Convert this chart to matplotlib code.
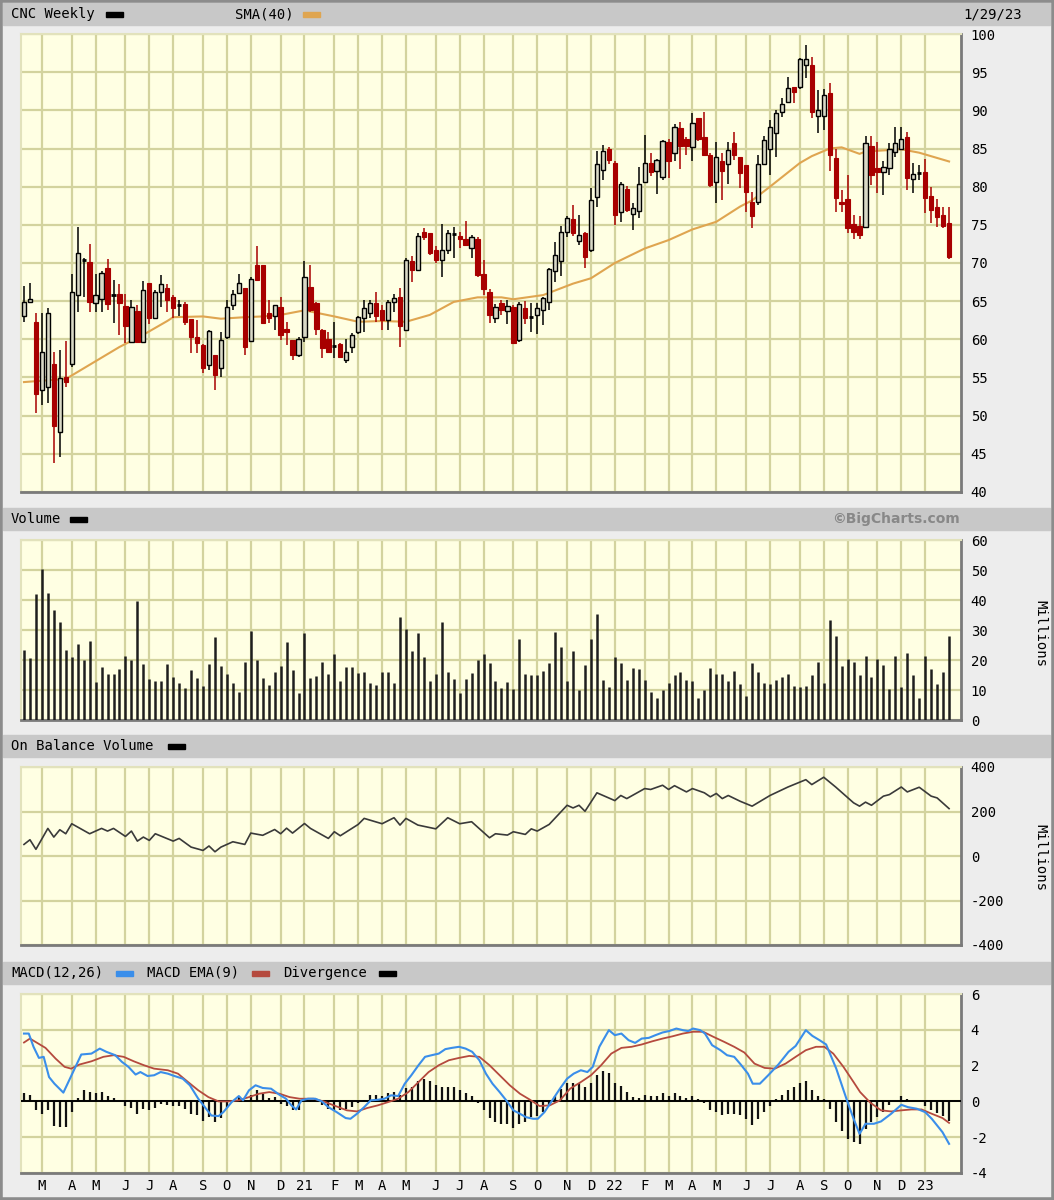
import matplotlib
matplotlib.use("Agg")
import matplotlib.pyplot as plt
from matplotlib.patches import Rectangle
import numpy as np
import pandas as pd

plt.rcParams["axes.unicode_minus"] = False

W, H = 1054, 1200
MONO = "DejaVu Sans Mono"

# ---------------- data ----------------
first_week = "2020-02-09"
n_weeks = 156

opens = [63.0, 64.85, 62.3, 53.4, 53.8, 56.8, 47.8, 55.1, 56.8, 65.8,
         70.5, 70.1, 64.7, 65.25, 69.3, 65.95, 65.9, 64.4, 59.7, 63.75,
         59.7, 67.4, 62.75, 66.2, 66.7, 65.5, 64.55, 64.6, 62.6, 60.35,
         59.25, 56.6, 57.95, 56.2, 60.3, 64.5, 66.1, 66.7, 59.8, 69.7,
         69.7, 63.4, 63.0, 64.2, 61.3, 59.9, 57.95, 60.35, 66.9, 64.7,
         61.2, 60.1, 59.3, 59.4, 57.3, 59.0, 60.9, 62.75, 63.5, 64.8,
         63.8, 62.5, 64.9, 65.5, 61.2, 70.2, 69.1, 74.0, 73.9, 71.7,
         70.4, 71.7, 73.85, 73.5, 73.2, 71.9, 73.2, 68.55, 66.2, 62.75,
         64.8, 63.75, 64.3, 59.9, 64.1, 63.05, 63.2, 63.9, 64.9, 68.9,
         70.2, 74.1, 75.7, 72.9, 73.9, 71.7, 78.7, 82.2, 84.9, 83.1,
         76.7, 79.65, 76.4, 76.85, 80.65, 83.1, 82.1, 81.3, 85.9, 84.45,
         87.65, 86.2, 85.2, 88.95, 86.5, 84.15, 80.65, 83.3, 83.0, 85.7,
         83.9, 82.8, 78.0, 78.0, 83.0, 85.0, 87.0, 89.8, 91.1, 93.0,
         93.0, 95.9, 95.9, 89.3, 89.3, 92.3, 83.7, 78.0, 78.35, 75.1,
         74.85, 74.7, 85.3, 82.4, 81.95, 82.5, 84.6, 85.0, 86.55, 80.95,
         81.95, 81.95, 78.8, 77.4, 76.3, 75.3]
highs = [67.0, 67.4, 63.4, 63.4, 64.1, 58.4, 58.6, 59.8, 68.6, 74.75,
         70.6, 72.5, 68.6, 69.0, 70.5, 67.8, 67.2, 66.0, 65.2, 64.5,
         67.7, 67.4, 66.5, 68.4, 67.2, 65.8, 65.2, 64.9, 62.6, 62.5,
         59.4, 61.2, 57.95, 60.9, 65.2, 66.5, 68.6, 66.7, 68.2, 72.2,
         69.7, 65.2, 64.5, 65.6, 62.3, 59.9, 60.3, 70.2, 69.7, 64.9,
         61.4, 61.0, 62.3, 59.5, 60.1, 60.8, 63.0, 65.1, 65.2, 66.2,
         64.5, 65.2, 66.0, 66.7, 70.6, 70.9, 73.9, 74.55, 73.9, 72.2,
         75.1, 74.3, 74.7, 74.1, 75.5, 73.7, 73.45, 70.4, 66.6, 64.6,
         65.2, 65.2, 64.5, 64.9, 65.0, 64.7, 64.7, 65.6, 69.4, 72.8,
         74.85, 76.1, 77.6, 76.3, 74.1, 79.8, 84.7, 85.5, 85.2, 83.3,
         80.65, 80.1, 77.8, 82.6, 86.8, 84.45, 83.6, 86.1, 86.2, 88.2,
         88.5, 86.55, 89.7, 88.95, 89.8, 84.4, 85.9, 84.4, 85.9, 87.2,
         83.9, 82.8, 79.3, 84.15, 86.6, 88.7, 90.0, 91.6, 94.4, 93.1,
         96.8, 98.6, 97.0, 92.6, 92.75, 93.55, 85.0, 79.6, 81.5, 76.3,
         76.1, 86.6, 86.6, 85.9, 83.3, 85.7, 87.8, 87.8, 87.1, 83.05,
         82.8, 83.6, 80.0, 78.35, 77.4, 77.4]
lows = [62.3, 64.7, 50.3, 51.4, 51.6, 43.75, 44.6, 53.8, 56.4, 63.6,
        65.6, 63.6, 63.6, 63.6, 63.8, 62.2, 60.6, 59.5, 59.5, 59.5,
        59.5, 62.0, 62.6, 64.3, 63.6, 62.75, 63.05, 61.9, 58.2, 58.2,
        55.55, 56.0, 53.4, 55.0, 60.1, 63.8, 66.0, 57.95, 59.7, 67.8,
        62.0, 62.1, 61.2, 59.9, 59.3, 57.3, 57.7, 59.7, 63.6, 60.6,
        57.5, 58.2, 57.5, 57.7, 56.9, 58.2, 60.7, 61.0, 62.8, 62.3,
        61.2, 61.2, 63.6, 59.0, 61.1, 67.5, 69.1, 73.0, 71.0, 70.0,
        68.2, 71.2, 70.6, 71.9, 72.35, 70.6, 68.2, 65.8, 62.1, 62.1,
        63.2, 62.0, 59.5, 59.7, 62.0, 61.0, 60.7, 61.9, 63.8, 67.55,
        68.3, 73.4, 73.5, 72.35, 69.3, 71.5, 77.4, 80.9, 83.0, 75.0,
        75.4, 76.7, 74.3, 75.85, 80.5, 81.4, 79.1, 80.9, 81.2, 83.3,
        82.3, 84.15, 83.4, 86.0, 84.15, 79.9, 77.8, 78.3, 80.35, 83.5,
        79.8, 76.7, 74.55, 77.6, 82.8, 81.5, 83.9, 89.1, 90.9, 91.0,
        92.8, 94.2, 88.95, 87.0, 87.4, 82.0, 76.7, 76.7, 73.9, 73.1,
        73.2, 74.55, 80.2, 79.2, 78.9, 81.5, 83.9, 84.8, 79.6, 79.2,
        80.9, 76.5, 75.3, 74.75, 74.55, 70.5]
closes = [64.9, 65.3, 52.8, 58.4, 63.4, 48.6, 54.9, 54.45, 66.25, 71.3,
          70.4, 64.9, 65.8, 68.65, 64.6, 65.85, 64.8, 61.7, 64.2, 59.7,
          66.5, 62.75, 66.2, 67.3, 65.2, 64.1, 64.45, 62.3, 60.3, 59.5,
          56.2, 61.1, 55.3, 59.9, 64.2, 65.9, 67.4, 58.95, 67.9, 67.8,
          62.1, 62.75, 64.5, 60.6, 61.0, 57.95, 60.1, 68.2, 63.8, 61.4,
          58.8, 58.4, 59.1, 57.7, 58.4, 60.6, 62.9, 64.15, 64.8, 63.05,
          62.5, 64.9, 65.4, 61.7, 70.4, 69.1, 73.5, 73.45, 71.3, 70.4,
          71.7, 73.9, 73.75, 73.2, 72.35, 73.45, 68.4, 66.55, 63.2, 64.2,
          63.9, 64.4, 59.5, 64.6, 62.75, 62.95, 64.1, 65.4, 69.2, 71.0,
          74.1, 75.85, 73.9, 73.7, 70.8, 78.3, 83.0, 84.7, 83.5, 76.3,
          80.4, 76.9, 77.2, 80.4, 83.1, 81.95, 83.5, 86.0, 83.3, 87.8,
          85.3, 85.3, 88.3, 86.3, 84.15, 80.2, 83.9, 82.1, 84.8, 84.15,
          81.75, 79.3, 76.1, 83.0, 86.1, 87.85, 89.6, 90.8, 92.9, 92.4,
          96.7, 96.7, 89.8, 90.0, 92.0, 84.15, 78.5, 77.7, 74.55, 74.0,
          73.7, 85.7, 81.5, 81.95, 82.6, 85.0, 85.7, 86.3, 81.1, 81.65,
          81.8, 78.5, 76.9, 76.0, 74.85, 70.75]

# weekly volume, millions
volume = [23.3, 20.6, 41.9, 50.2, 42.4, 36.7, 32.8, 23.3, 21.1, 25.3,
          20.0, 26.3, 12.8, 17.6, 15.2, 15.2, 17.0, 21.4, 20.0, 39.7,
          18.6, 13.7, 13.1, 13.1, 18.6, 14.2, 12.2, 10.8, 16.7, 14.1,
          11.3, 18.6, 27.8, 18.1, 15.2, 12.2, 9.2, 19.4, 29.8, 20.0,
          14.1, 11.7, 16.1, 18.1, 25.9, 16.7, 8.9, 28.9, 14.1, 14.7,
          19.4, 15.2, 22.0, 13.1, 17.6, 17.6, 15.6, 16.1, 12.2, 11.7,
          16.1, 16.1, 12.2, 34.2, 30.2, 23.0, 28.9, 20.9, 13.1, 15.2,
          32.6, 16.1, 13.7, 8.9, 13.7, 15.6, 20.0, 21.9, 18.9, 13.1,
          10.8, 12.6, 10.2, 26.9, 15.2, 15.0, 15.0, 16.5, 19.0, 29.5,
          24.5, 13.0, 23.0, 10.0, 18.5, 27.0, 35.5, 13.5, 11.0, 21.0,
          19.0, 13.5, 17.5, 17.0, 13.5, 9.5, 7.5, 10.0, 12.5, 15.0,
          16.0, 13.5, 13.0, 7.5, 10.0, 17.5, 15.5, 15.5, 13.0, 16.5,
          12.0, 8.0, 19.0, 16.0, 12.5, 12.0, 13.5, 14.5, 15.5, 11.5,
          11.0, 11.5, 15.0, 19.5, 12.5, 33.5, 28.0, 18.0, 20.5, 19.5,
          15.0, 21.5, 14.5, 20.5, 18.5, 10.5, 21.5, 11.0, 22.5, 15.0,
          7.5, 21.5, 17.0, 12.0, 16.0, 28.0]

sma_weeks = [0, 5, 7, 10, 16, 20, 24, 25, 30, 33, 37, 40, 43, 47, 52, 56, 60,
             64, 68, 72, 76, 80, 82, 87, 92, 95, 99, 104, 108, 112, 116, 120,
             122, 125, 130, 132, 135, 137, 140, 141, 145, 147, 150, 155]
sma_vals = [54.4, 54.7, 54.8, 56.2, 59.0, 60.6, 62.4, 62.9, 63.0, 62.7, 62.9,
            63.0, 63.2, 63.8, 63.0, 62.3, 62.4, 62.3, 63.2, 64.9, 65.5, 65.5,
            65.25, 65.8, 67.3, 68.0, 70.0, 71.9, 73.0, 74.4, 75.4, 77.4, 78.2,
            80.0, 83.1, 84.0, 85.0, 85.15, 84.3, 84.6, 84.8, 84.9, 84.45, 83.3]

obv_weeks = [0, 1, 2, 4, 5, 6, 7, 8, 11, 13, 14, 15, 17, 18, 19, 20, 21, 22,
             25, 26, 28, 30, 31, 32, 33, 35, 37, 38, 40, 42, 43, 44, 45, 47,
             48, 51, 52, 53, 56, 57, 60, 62, 63, 64, 66, 69, 71, 73, 75, 78,
             79, 81, 82, 84, 85, 86, 88, 91, 92, 93, 94, 96, 99, 100, 101,
             104, 105, 107, 108, 109, 111, 112, 114, 115, 116, 117, 118, 120,
             122, 125, 128, 131, 132, 134, 136, 139, 140, 141, 142, 144, 145,
             147, 148, 150, 152, 153, 155]
obv_vals = [52, 73, 30, 124, 85, 118, 100, 145, 100, 124, 112, 124, 88, 112,
            67, 85, 70, 100, 67, 79, 40, 25, 45, 19, 40, 64, 52, 103, 93, 119,
            100, 125, 103, 146, 124, 79, 109, 91, 142, 169, 145, 172, 139,
            169, 139, 122, 172, 145, 154, 82, 100, 94, 109, 97, 122, 112, 142,
            228, 216, 228, 201, 284, 249, 272, 258, 303, 299, 318, 299, 316,
            288, 303, 284, 266, 281, 258, 272, 246, 224, 272, 310, 343, 321,
            354, 310, 239, 224, 242, 228, 269, 276, 310, 288, 309, 269, 261,
            213]

macd_weeks = [0, 0.8, 1.6, 2.5, 3.3, 4.2, 5.1, 6.6, 8.5, 9.6, 11.3, 12.7,
              13.8, 15.3, 16.4, 17.5, 18.7, 19.5, 20.7, 21.8, 22.9, 24.1,
              25.2, 26.6, 27.8, 29.2, 30.3, 31.4, 32.6, 33.4, 34.8, 36.0,
              36.7, 37.7, 38.8, 40.0, 41.4, 42.8, 43.9, 44.8, 45.6, 46.5,
              47.6, 48.8, 49.9, 51.0, 52.4, 53.9, 54.7, 55.8, 57.0, 58.1,
              59.3, 60.4, 61.5, 62.7, 63.8, 64.9, 66.1, 67.2, 68.3, 69.5,
              70.6, 71.7, 72.9, 74.0, 75.1, 76.3, 77.4, 78.5, 79.7, 80.8,
              82.0, 83.1, 84.1, 85.3, 86.1, 87.2, 88.7, 89.8, 91.0, 92.1,
              93.3, 94.4, 95.3, 96.4, 98.0, 99.0, 100.1, 101.3, 102.4, 103.5,
              104.7, 105.8, 107.0, 108.1, 109.3, 110.4, 111.3, 112.1, 113.3,
              114.1, 115.3, 116.7, 117.8, 119.0, 120.1, 121.3, 122.1, 123.3,
              124.7, 126.4, 128.1, 129.3, 131.0, 132.1, 133.3, 134.4, 136.1,
              137.8, 139.0, 140.0, 141.0, 142.4, 143.6, 145.3, 147.0, 148.1,
              149.6, 151.0, 152.1, 153.9, 155.0]
macd_vals = [3.79, 3.79, 3.05, 2.43, 2.49, 1.36, 0.99, 0.49, 1.83, 2.62, 2.67,
             2.95, 2.77, 2.58, 2.21, 1.93, 1.50, 1.64, 1.42, 1.46, 1.64, 1.55,
             1.42, 1.27, 0.90, 0.15, -0.32, -0.79, -0.82, -0.60, -0.04, 0.30,
             0.06, 0.62, 0.90, 0.75, 0.71, 0.37, 0.15, -0.22, -0.45, 0.06,
             0.15, 0.15, 0.00, -0.32, -0.60, -0.93, -0.97, -0.69, -0.32, 0.06,
             0.09, 0.15, 0.34, 0.30, 0.99, 1.46, 2.02, 2.49, 2.58, 2.67, 2.92,
             2.99, 3.05, 2.95, 2.77, 2.30, 1.55, 0.99, 0.52, 0.06, -0.50,
             -0.69, -0.88, -0.97, -0.97, -0.60, 0.15, 0.71, 1.27, 1.55, 1.74,
             1.64, 1.93, 3.05, 3.98, 3.70, 3.79, 3.42, 3.27, 3.51, 3.55, 3.70,
             3.85, 3.93, 4.07, 3.98, 3.93, 4.07, 3.98, 3.79, 3.14, 2.86, 2.58,
             2.49, 2.06, 1.55, 0.99, 0.99, 1.46, 2.06, 2.77, 3.10, 3.98, 3.66,
             3.42, 3.18, 1.83, 0.15, -0.97, -1.81, -1.25, -1.25, -1.12, -0.69,
             -0.19, -0.32, -0.41, -0.60, -0.97, -1.72, -2.37]

signal_weeks = [0, 1.0, 3.6, 5.3, 6.8, 7.9, 9.3, 11.3, 13.3, 15.0, 16.7, 18.4,
                20.1, 21.8, 24.1, 25.8, 27.5, 29.2, 30.9, 32.6, 34.3, 36.0,
                37.7, 39.4, 41.1, 42.8, 44.5, 46.2, 48.5, 50.2, 51.9, 54.1,
                55.8, 57.5, 59.3, 61.0, 62.7, 64.4, 66.1, 67.8, 69.5, 71.2,
                72.9, 74.6, 76.3, 78.0, 79.7, 81.4, 83.1, 84.7, 86.4, 88.1,
                89.8, 91.5, 93.3, 95.0, 96.7, 98.4, 100.1, 101.8, 103.5, 105.3,
                107.0, 108.7, 110.4, 112.1, 113.8, 115.5, 117.3, 119.0, 120.7,
                122.4, 124.1, 125.8, 127.6, 129.3, 131.0, 132.7, 134.1, 135.6,
                137.3, 139.0, 140.1, 141.8, 143.6, 145.3, 147.0, 148.7, 150.4,
                152.1, 153.9, 155.0]
signal_vals = [3.29, 3.51, 2.99, 2.39, 1.93, 1.83, 2.06, 2.24, 2.49, 2.58, 2.49,
               2.24, 2.02, 1.83, 1.74, 1.55, 1.08, 0.62, 0.24, 0.00, 0.00, 0.06,
               0.24, 0.43, 0.52, 0.43, 0.24, 0.15, 0.15, 0.00, -0.22, -0.50,
               -0.56, -0.37, -0.22, -0.04, 0.15, 0.52, 1.08, 1.64, 2.02, 2.30,
               2.43, 2.54, 2.49, 2.02, 1.46, 0.90, 0.43, 0.11, -0.26, -0.22,
               0.06, 0.71, 1.08, 1.46, 2.02, 2.67, 2.99, 3.05, 3.18, 3.36, 3.51,
               3.64, 3.79, 3.89, 3.89, 3.61, 3.33, 3.05, 2.73, 2.11, 1.87, 1.83,
               2.11, 2.49, 2.86, 3.05, 3.05, 2.67, 1.93, 1.08, 0.52, -0.07,
               -0.50, -0.56, -0.50, -0.45, -0.45, -0.69, -0.93, -1.20]

divergence = [0.47, 0.37, -0.5, -0.69, -0.5, -1.35, -1.44, -1.44, -0.6, 0.19,
              0.62, 0.52, 0.47, 0.52, 0.3, 0.19, 0.0, -0.26, -0.36, -0.69,
              -0.41, -0.5, -0.36, -0.17, -0.22, -0.26, -0.26, -0.41, -0.69, -0.75,
              -1.1, -0.88, -1.16, -0.93, -0.37, 0.0, 0.3, 0.0, 0.34, 0.62,
              0.43, 0.19, 0.24, -0.13, -0.26, -0.5, -0.5, 0.0, -0.05, 0.0,
              -0.22, -0.41, -0.5, -0.5, -0.41, -0.32, -0.07, 0.09, 0.37, 0.37,
              0.3, 0.47, 0.52, 0.34, 0.75, 0.8, 1.12, 1.27, 1.12, 0.93,
              0.8, 0.8, 0.8, 0.62, 0.47, 0.3, -0.07, -0.5, -0.93, -1.16,
              -1.25, -1.25, -1.5, -1.25, -1.16, -0.88, -0.79, -0.6, -0.22, 0.3,
              0.71, 1.05, 1.05, 1.05, 0.8, 1.05, 1.46, 1.68, 1.6, 1.05,
              0.86, 0.52, 0.24, 0.19, 0.37, 0.3, 0.3, 0.47, 0.3, 0.47,
              0.3, 0.19, 0.3, 0.11, -0.07, -0.5, -0.6, -0.75, -0.69, -0.69,
              -0.75, -1.0, -1.31, -1.0, -0.6, -0.26, 0.11, 0.37, 0.62, 0.8,
              1.05, 1.12, 0.62, 0.3, 0.11, -0.41, -1.16, -1.68, -2.09, -2.28,
              -2.37, -1.53, -1.16, -0.88, -0.6, -0.19, 0.0, 0.3, 0.11, 0.0,
              0.0, -0.26, -0.5, -0.64, -0.79, -1.12]

# ---------------- styling ----------------
BG_OUT = "#EDEDED"
BG_HEAD = "#C8C8C8"
BG_PLOT = "#FFFFE3"
GRID = "#D3D39E"
RED = "#A80000"
HOLLOW = "#D9D9C6"
SMA_C = "#DFA550"
BLUE = "#3A8EEA"
BROWN = "#B54A3E"

dates = pd.date_range(first_week, periods=n_weeks, freq="W-SUN")
idx = np.arange(n_weeks)
month_pos = [i for i in range(1, n_weeks) if dates[i].month != dates[i - 1].month]
month_lab = [dates[i].strftime("%y") if dates[i].month == 1 else dates[i].strftime("%b")[0]
             for i in month_pos]

fig = plt.figure(figsize=(W / 100, H / 100), dpi=100, facecolor=BG_OUT)


def fx(x):
    return x / W


def fy(y):
    return 1 - y / H


def panel(y0, y1):
    return fig.add_axes([fx(21), fy(y1), fx(961 - 21), (y1 - y0) / H])


def header(y0, y1):
    fig.add_artist(Rectangle((fx(3), fy(y1)), fx(1050 - 3), (y1 - y0) / H,
                             transform=fig.transFigure, color=BG_HEAD, zorder=0))


def swatch(x, yc, color):
    fig.add_artist(Rectangle((fx(x), fy(yc + 2.5)), fx(17), 5 / H,
                             transform=fig.transFigure, color=color))


def label(x, yc, s, **kw):
    fig.text(fx(x), fy(yc), s, family=MONO, fontsize=10, va="center", ha="left", **kw)


def style(ax, ylim, yticks):
    ax.set_facecolor(BG_PLOT)
    ax.set_xlim(-0.5, 157)
    ax.set_ylim(*ylim)
    ax.set_yticks(yticks)
    ax.set_xticks(month_pos)
    ax.set_xticklabels([])
    ax.yaxis.tick_right()
    ax.tick_params(axis="both", length=0, labelsize=10, pad=7)
    for t in ax.get_yticklabels():
        t.set_family(MONO)
    ax.grid(True, color=GRID, lw=1.6, zorder=0)
    ax.set_axisbelow(True)
    for side in ("top", "left"):
        ax.spines[side].set_color("#E2E2BC")
        ax.spines[side].set_linewidth(1.5)
    for side in ("bottom", "right"):
        ax.spines[side].set_color("#7A7A7A")
        ax.spines[side].set_linewidth(2)


# headers
header(3, 25)
header(508, 530)
header(735, 757)
header(962, 984)

label(11, 14, "CNC Weekly")
swatch(106, 14, "black")
label(235, 14, "SMA(40)")
swatch(303, 14, SMA_C)
fig.text(fx(1022), fy(14), "1/29/23", family=MONO, fontsize=10, va="center", ha="right")

label(11, 519, "Volume")
swatch(70, 519, "black")
fig.text(fx(960), fy(519), "\u00a9BigCharts.com", family="DejaVu Sans", fontsize=10,
         fontweight="bold", color="#888888", va="center", ha="right")

label(11, 746, "On Balance Volume")
swatch(168, 746, "black")

label(11, 973, "MACD(12,26)")
swatch(116, 973, BLUE)
label(147, 973, "MACD EMA(9)")
swatch(252, 973, BROWN)
label(283, 973, "Divergence")
swatch(379, 973, "black")

# ---------------- price panel ----------------
ax1 = panel(34, 492)
style(ax1, (40, 100), range(40, 101, 5))

o = np.array(opens)
c = np.array(closes)
hi = np.array(highs)
lo = np.array(lows)
doji = np.abs(c - o) < 0.25
up = (c > o) & ~doji
down = (c < o) & ~doji

ax1.plot(sma_weeks, sma_vals, color=SMA_C, lw=1.5, zorder=2)
wick_col = np.where(down, RED, "black")
ax1.vlines(idx, lo, hi, colors=wick_col, lw=1.1, zorder=3)
ax1.bar(idx[up], (c - o)[up], bottom=o[up], width=0.72, facecolor=HOLLOW,
        edgecolor="black", linewidth=1.0, zorder=4)
ax1.bar(idx[down], (o - c)[down], bottom=c[down], width=0.72, facecolor=RED,
        edgecolor=RED, linewidth=0.8, zorder=4)
ax1.hlines(c[doji], idx[doji] - 0.36, idx[doji] + 0.36, colors="black", lw=2, zorder=4)

# ---------------- volume panel ----------------
ax2 = panel(540, 720)
style(ax2, (0, 60), range(0, 61, 10))
ax2.vlines(idx, 0, volume, colors="#1E1E1E", lw=1.8, zorder=3)
fig.text(fx(1040), fy(633), "Millions", family=MONO, fontsize=10, rotation=270,
         va="center", ha="center")

# ---------------- OBV panel ----------------
ax3 = panel(767, 945)
style(ax3, (-400, 400), range(-400, 401, 200))
ax3.plot(obv_weeks, obv_vals, color="#3A3A3A", lw=1.2, zorder=3)
fig.text(fx(1040), fy(858), "Millions", family=MONO, fontsize=10, rotation=270,
         va="center", ha="center")

# ---------------- MACD panel ----------------
ax4 = panel(994, 1173)
style(ax4, (-4, 6), range(-4, 7, 2))
ax4.vlines(idx, 0, divergence, colors="#111111", lw=1.6, zorder=3)
ax4.axhline(0, color="black", lw=1.4, zorder=3)
ax4.plot(signal_weeks, signal_vals, color=BROWN, lw=1.3, zorder=4)
ax4.plot(macd_weeks, macd_vals, color=BLUE, lw=1.5, zorder=5)
ax4.set_xticklabels(month_lab, family=MONO, fontsize=10)
ax4.tick_params(axis="x", pad=4)

# outer frame
fig.add_artist(Rectangle((0, 0), 1, 1, transform=fig.transFigure, fill=False,
                         edgecolor="#8C8C8C", lw=4))

fig.savefig("out.png", dpi=100, facecolor=BG_OUT)
